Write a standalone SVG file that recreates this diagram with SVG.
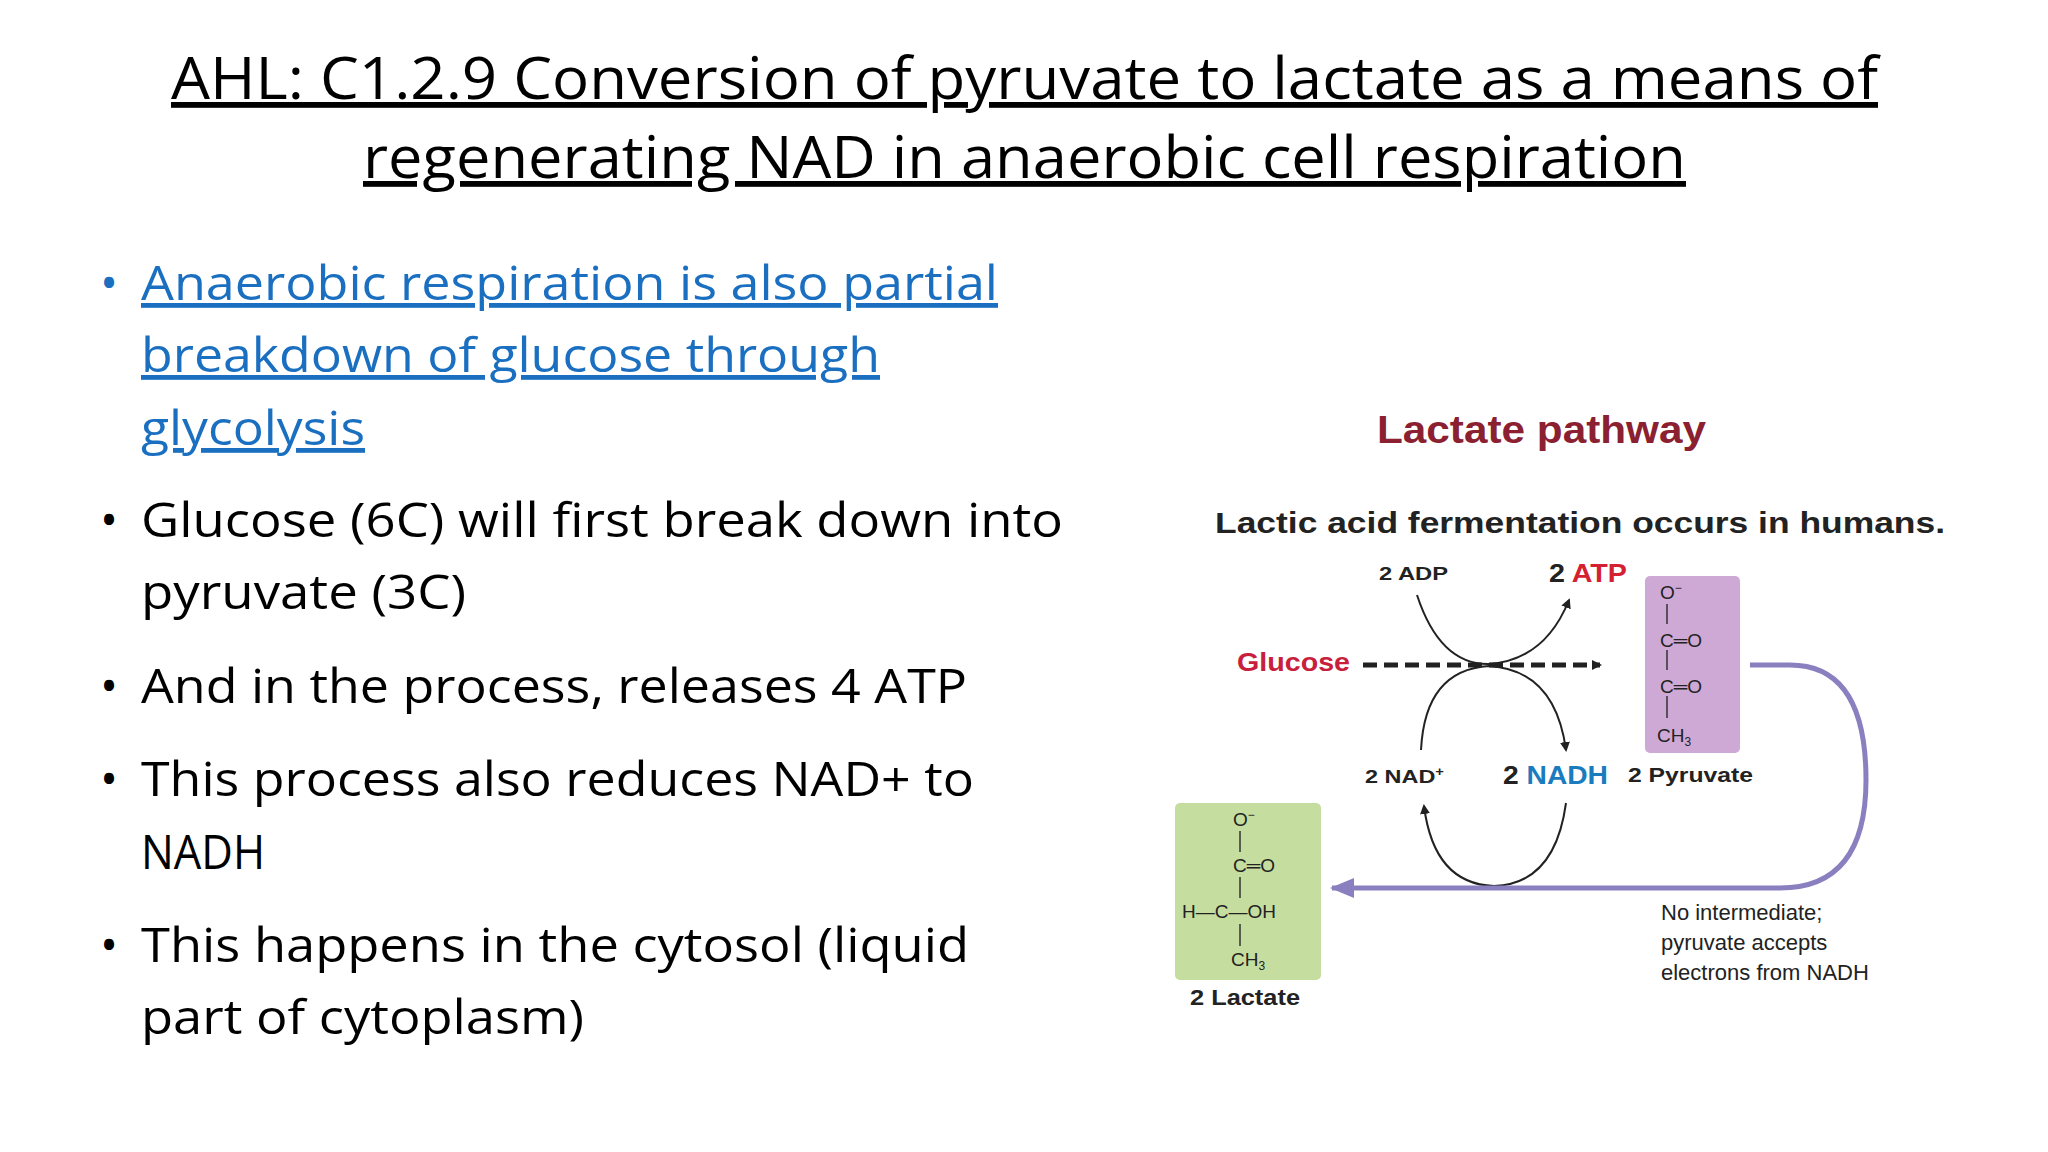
<svg xmlns="http://www.w3.org/2000/svg" width="2048" height="1152" viewBox="0 0 2048 1152">
<style>
.t{font-family:"Open Sans","Liberation Sans",sans-serif;font-size:58px;fill:#000;text-decoration:underline}
.b{font-family:"Open Sans","Liberation Sans",sans-serif;font-size:48px;fill:#000}
.lk{fill:#1a6fc0;text-decoration:underline}
.d{font-family:"Liberation Sans",Arial,sans-serif;font-weight:bold;fill:#222}
.n{font-family:"Liberation Sans",Arial,sans-serif;font-size:22px;fill:#222}
.c{font-family:"Liberation Sans",Arial,sans-serif;font-size:19px;fill:#222}
.arc{fill:none;stroke:#222;stroke-width:2}
</style>
<defs>
<marker id="ah" markerWidth="10" markerHeight="10" refX="8" refY="5" orient="auto" markerUnits="userSpaceOnUse"><path d="M0,0 L10,5 L0,10 Z" fill="#222"/></marker>
<marker id="ap" markerWidth="24" markerHeight="20" refX="22" refY="10" orient="auto" markerUnits="userSpaceOnUse"><path d="M0,0 L24,10 L0,20 Z" fill="#8a80c0"/></marker>
</defs>
<rect width="2048" height="1152" fill="#fff"/>
<g id="title">
<text class="t" x="171" y="99" textLength="1707" lengthAdjust="spacingAndGlyphs">AHL: C1.2.9 Conversion of pyruvate to lactate as a means of</text>
<text class="t" x="363" y="178" textLength="1323" lengthAdjust="spacingAndGlyphs">regenerating NAD in anaerobic cell respiration</text>
</g>
<g id="bullets" class="b">
<text x="100" y="300" class="lk" style="text-decoration:none">•</text>
<text x="141" y="300" class="lk" textLength="857" lengthAdjust="spacingAndGlyphs">Anaerobic respiration is also partial</text>
<text x="141" y="372" class="lk" textLength="739" lengthAdjust="spacingAndGlyphs">breakdown of glucose through</text>
<text x="141" y="445" class="lk" textLength="224" lengthAdjust="spacingAndGlyphs">glycolysis</text>
<text x="100" y="537">•</text>
<text x="141" y="537" textLength="922" lengthAdjust="spacingAndGlyphs">Glucose (6C) will first break down into</text>
<text x="141" y="609" textLength="325" lengthAdjust="spacingAndGlyphs">pyruvate (3C)</text>
<text x="100" y="703">•</text>
<text x="141" y="703" textLength="826" lengthAdjust="spacingAndGlyphs">And in the process, releases 4 ATP</text>
<text x="100" y="796">•</text>
<text x="141" y="796" textLength="833" lengthAdjust="spacingAndGlyphs">This process also reduces NAD+ to</text>
<text x="141" y="869" textLength="124" lengthAdjust="spacingAndGlyphs">NADH</text>
<text x="100" y="962">•</text>
<text x="141" y="962" textLength="828" lengthAdjust="spacingAndGlyphs">This happens in the cytosol (liquid</text>
<text x="141" y="1034" textLength="443" lengthAdjust="spacingAndGlyphs">part of cytoplasm)</text>
</g>
<g id="heading">
<text class="d" x="1377" y="443" font-size="38" style="fill:#8a2030" textLength="329" lengthAdjust="spacingAndGlyphs">Lactate pathway</text>
<text class="d" x="1215" y="533" font-size="30" textLength="730" lengthAdjust="spacingAndGlyphs">Lactic acid fermentation occurs in humans.</text>
</g>
<g id="pyruvate">
<rect x="1645" y="576" width="95" height="177" rx="5" fill="#cfa9d6"/>
<text class="c" x="1660" y="599">O<tspan font-size="12" dy="-7">−</tspan></text>
<path d="M1667,604 V624 M1667,650 V670 M1667,696 V718" stroke="#333" stroke-width="1.5"/>
<text class="c" x="1660" y="647">C═O</text>
<text class="c" x="1660" y="693">C═O</text>
<text class="c" x="1657" y="742">CH<tspan font-size="12" dy="4">3</tspan></text>
<text class="d" x="1628" y="782" font-size="21" textLength="125" lengthAdjust="spacingAndGlyphs">2 Pyruvate</text>
</g>
<g id="lactate">
<rect x="1175" y="803" width="146" height="177" rx="5" fill="#c5dea0"/>
<text class="c" x="1233" y="826">O<tspan font-size="12" dy="-7">−</tspan></text>
<text class="c" x="1233" y="872">C═O</text>
<text class="c" x="1182" y="918">H—C—OH</text>
<text class="c" x="1231" y="966">CH<tspan font-size="12" dy="4">3</tspan></text>
<path d="M1240,831 V852 M1240,877 V898 M1240,924 V946" stroke="#333" stroke-width="1.5"/>
<text class="d" x="1190" y="1005" font-size="22" textLength="110" lengthAdjust="spacingAndGlyphs">2 Lactate</text>
</g>
<g id="labels">
<text class="d" x="1237" y="671" font-size="25" style="fill:#c8203c" textLength="113" lengthAdjust="spacingAndGlyphs">Glucose</text>
<text class="d" x="1379" y="580" font-size="19" textLength="69" lengthAdjust="spacingAndGlyphs">2 ADP</text>
<text class="d" x="1549" y="582" font-size="25" textLength="78" lengthAdjust="spacingAndGlyphs">2 <tspan style="fill:#d42030">ATP</tspan></text>
<text class="d" x="1365" y="783" font-size="19" textLength="79" lengthAdjust="spacingAndGlyphs">2 NAD<tspan font-size="12" dy="-7">+</tspan></text>
<text class="d" x="1503" y="784" font-size="25" textLength="105" lengthAdjust="spacingAndGlyphs">2 <tspan style="fill:#1a7bbf">NADH</tspan></text>
<text class="n" x="1661" y="920">No intermediate;</text>
<text class="n" x="1661" y="950">pyruvate accepts</text>
<text class="n" x="1661" y="980">electrons from NADH</text>
</g>
<g id="connectors">
<path d="M1363,665 H1600" stroke="#222" stroke-width="5" stroke-dasharray="14,7" marker-end="url(#ah)"/>
<path class="arc" d="M1417,595 Q1440,665 1489,664 Q1545,660 1569,600" marker-end="url(#ah)"/>
<path class="arc" d="M1421,750 Q1425,670 1489,666 Q1555,670 1566,750" marker-end="url(#ah)"/>
<path class="arc" d="M1566,803 Q1555,884 1494,886 Q1434,884 1424,806" marker-end="url(#ah)"/>
<path d="M1750,665 H1790 Q1866,665 1866,780 Q1866,888 1780,888 H1332" fill="none" stroke="#8a80c0" stroke-width="5" marker-end="url(#ap)"/>
</g>
</svg>
